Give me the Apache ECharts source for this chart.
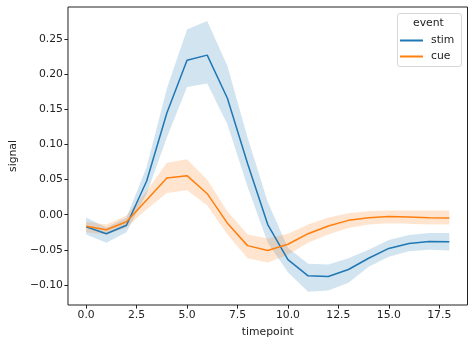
<!DOCTYPE html>
<html>
<head>
<meta charset="utf-8">
<script src="https://cdn.jsdelivr.net/npm/echarts@6/dist/echarts.min.js"></script>
<style>html,body{margin:0;padding:0;background:#fff}#c{width:474px;height:348px}</style>
</head>
<body>
<div id="c"></div>
<script>
var timepoints = [0,1,2,3,4,5,6,7,8,9,10,11,12,13,14,15,16,17,18];
var stimMean = [-0.017,-0.027,-0.015,0.048,0.145,0.220,0.2274,0.166,0.073,-0.014,-0.064,-0.087,-0.088,-0.078,-0.062,-0.048,-0.041,-0.038,-0.0386];
var stimLow  = [-0.028,-0.040,-0.025,0.030,0.110,0.182,0.187,0.129,0.040,-0.040,-0.082,-0.1096,-0.108,-0.097,-0.074,-0.060,-0.052,-0.050,-0.051];
var stimHigh = [-0.004,-0.018,-0.004,0.068,0.180,0.264,0.276,0.212,0.110,0.018,-0.047,-0.070,-0.071,-0.062,-0.050,-0.036,-0.029,-0.026,-0.026];
var cueMean  = [-0.0165,-0.0214,-0.0099,0.021,0.0524,0.0557,0.030,-0.012,-0.044,-0.051,-0.042,-0.027,-0.016,-0.008,-0.0043,-0.0025,-0.0033,-0.0043,-0.0048];
var cueLow   = [-0.025,-0.028,-0.018,0.008,0.031,0.035,0.013,-0.028,-0.062,-0.068,-0.057,-0.040,-0.028,-0.019,-0.014,-0.012,-0.013,-0.014,-0.014];
var cueHigh  = [-0.010,-0.014,-0.001,0.034,0.074,0.079,0.050,0.005,-0.028,-0.034,-0.027,-0.014,-0.004,0.002,0.005,0.006,0.006,0.006,0.006];
var xTicks = [0,2.5,5,7.5,10,12.5,15,17.5];
var yTicks = [-0.10,-0.05,0.00,0.05,0.10,0.15,0.20,0.25];
var seriesNames = ['stim','cue'];
var colors = ['#1f77b4','#ff7f0e'];
var bandColors = ['rgba(31,119,180,0.2)','rgba(255,127,14,0.2)'];

function pairs(xs, ys){ return xs.map(function(x,i){ return [x, ys[i]]; }); }
function bandRows(xs, lo, hi){ return xs.map(function(x,i){ return [x, lo[i], hi[i]]; }); }

var means = [stimMean, cueMean], lows = [stimLow, cueLow], highs = [stimHigh, cueHigh];
var series = [];
for (var k = 0; k < 2; k++) {
  (function(k){
    var rows = bandRows(timepoints, lows[k], highs[k]);
    series.push({
      name: seriesNames[k] + '_band', type: 'custom', z: 1, silent: true,
      data: rows,
      encode: { x: 0, y: [1, 2] },
      renderItem: function(params, api) {
        if (params.dataIndex !== 0) return null;
        var up = [], down = [];
        for (var i = 0; i < rows.length; i++) {
          up.push(api.coord([rows[i][0], rows[i][2]]));
          down.push(api.coord([rows[i][0], rows[i][1]]));
        }
        return {
          type: 'polygon', shape: { points: up.concat(down.reverse()) },
          style: { fill: bandColors[k] }
        };
      }
    });
  })(k);
}
for (var k = 0; k < 2; k++) {
  series.push({
    name: seriesNames[k], type: 'line', z: 3,
    data: pairs(timepoints, means[k]), symbol: 'none', silent: true,
    color: colors[k],
    lineStyle: { color: colors[k], width: 1.5 }
  });
}

var txt = '#222';
var font = 'DejaVu Sans';
var fs = 10.8;
var chart = echarts.init(document.getElementById('c'), null, { renderer: 'canvas' });
chart.setOption({
  animation: false,
  textStyle: { fontFamily: font },
  grid: { left: 67, top: 7, right: 6.5, bottom: 43, show: true, borderColor: '#222', borderWidth: 1, backgroundColor: 'transparent' },
  xAxis: {
    type: 'value', min: -0.9, max: 18.9,
    name: 'timepoint', nameLocation: 'middle', nameGap: 22,
    nameTextStyle: { color: txt, fontSize: fs, fontFamily: font },
    axisLine: { show: false, onZero: false },
    splitLine: { show: false },
    axisTick: { show: true, length: 3.6, lineStyle: { color: '#222' }, customValues: xTicks },
    axisLabel: { color: txt, fontSize: fs, fontFamily: font, margin: 5, customValues: xTicks,
      formatter: function(v){ return (+v).toFixed(1).replace('-', '\u2212'); } }
  },
  yAxis: {
    type: 'value', min: -0.1286, max: 0.296,
    name: 'signal', nameLocation: 'middle', nameGap: 46, nameRotate: 90,
    nameTextStyle: { color: txt, fontSize: fs, fontFamily: font },
    axisLine: { show: false, onZero: false },
    splitLine: { show: false },
    axisTick: { show: true, length: 3.6, lineStyle: { color: '#222' }, customValues: yTicks },
    axisLabel: { color: txt, fontSize: fs, fontFamily: font, margin: 5, customValues: yTicks,
      formatter: function(v){ var s = (+v).toFixed(2); if (s === '-0.00') s = '0.00'; return s.replace('-', '\u2212'); } }
  },
  legend: {
    data: seriesNames, orient: 'vertical', left: 400, top: 35, z: 200,
    itemWidth: 23, itemHeight: 2, itemGap: 5, icon: 'rect',
    textStyle: { color: txt, fontSize: fs, fontFamily: font, padding: [0,0,0,3] },
    selectedMode: false, padding: 0
  },
  graphic: [
    { type: 'rect', left: 397, top: 13, z: 50, silent: true,
      shape: { width: 64, height: 53, r: 2.5 },
      style: { fill: 'rgba(255,255,255,0.8)', stroke: '#d8d8d8', lineWidth: 1 } },
    { type: 'text', left: 413, top: 18, z: 51, silent: true,
      style: { text: 'event', fill: txt, font: fs + 'px "DejaVu Sans"' } }
  ],
  series: series
});
</script>
</body>
</html>
